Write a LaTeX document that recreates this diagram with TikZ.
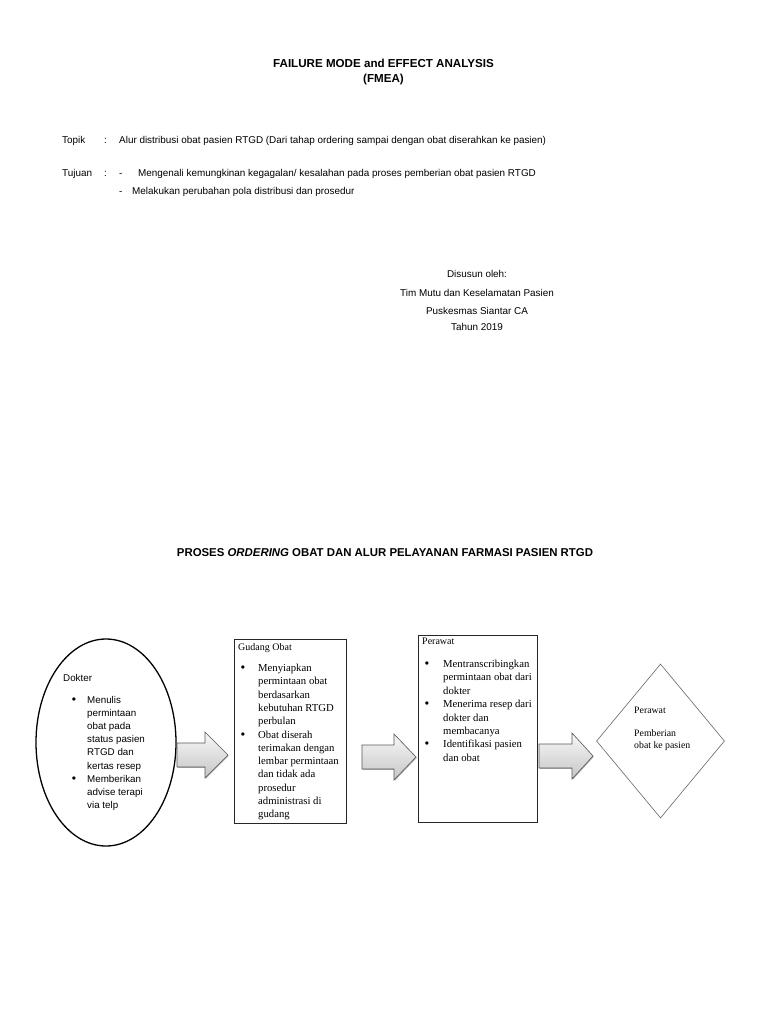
\documentclass[tikz,border=0pt]{standalone}
\usepackage{fontspec}
\setmainfont{Liberation Serif}
\setsansfont{Liberation Sans}
\usetikzlibrary{shapes.geometric,shadows}
\begin{document}
\begin{tikzpicture}[x=1pt,y=-1pt,
  every node/.style={inner sep=0pt},
  txt/.style={font=\sffamily\fontsize{9.9}{12}\selectfont, anchor=west, text height=7pt, text depth=2pt},
  ctr/.style={font=\sffamily\fontsize{9.9}{12}\selectfont, text height=7pt, text depth=2pt},
  ttl/.style={font=\sffamily\bfseries\fontsize{11.6}{14}\selectfont, text height=8.3pt, text depth=2.3pt},
  hdg/.style={font=\sffamily\bfseries\fontsize{11.4}{14}\selectfont, text height=8.2pt, text depth=2.2pt},
  eltxt/.style={font=\sffamily\fontsize{9.8}{12}\selectfont, anchor=west, text height=7pt, text depth=2pt},
  bxtxt/.style={font=\rmfamily\fontsize{10.7}{12}\selectfont, anchor=west, text height=7.3pt, text depth=2.3pt},
  bxttl/.style={font=\rmfamily\fontsize{10}{12}\selectfont, anchor=west, text height=7pt, text depth=2pt},
  dmtxt/.style={font=\rmfamily\fontsize{9.8}{12}\selectfont, anchor=west, text height=7pt, text depth=2pt},
  bul/.style={font=\sffamily\fontsize{12}{12}\selectfont, text height=7pt, text depth=2pt},
  frame/.style={draw=black!85, line width=0.8pt},
  blk/.style={draw=gray!70!black, line width=0.6pt, top color=gray!6, bottom color=gray!45,
              drop shadow={shadow xshift=0.8pt, shadow yshift=-0.8pt, opacity=0.3, fill=black}},
]
\useasboundingbox (0,0) rectangle (768,1024);
\fill[white] (0,0) rectangle (768,1024);

% ---------- header ----------
\node[ttl] (t1) at (383.5,65) {FAILURE MODE and EFFECT ANALYSIS};
\node[ttl] (t2) at (383.5,80) {(FMEA)};

\node[txt] (topik) at (62,141) {Topik};
\node[txt] (c1) at (104,141) {:};
\node[txt] (topiktxt) at (119,141) {Alur distribusi obat pasien RTGD (Dari tahap ordering sampai dengan obat diserahkan ke pasien)};

\node[txt] (tujuan) at (62,174) {Tujuan};
\node[txt] (c2) at (104,174) {:};
\node[txt] (d1) at (119,174) {-};
\node[txt] (tj1) at (138,174) {Mengenali kemungkinan kegagalan/ kesalahan pada proses pemberian obat pasien RTGD};
\node[txt] (d2) at (119,192) {-};
\node[txt] (tj2) at (132,192) {Melakukan perubahan pola distribusi dan prosedur};

\node[ctr] (s1) at (477,275) {Disusun oleh:};
\node[ctr] (s2) at (477,293.5) {Tim Mutu dan Keselamatan Pasien};
\node[ctr] (s3) at (477,312) {Puskesmas Siantar CA};
\node[ctr] (s4) at (477,328) {Tahun 2019};

\node[hdg] (hd) at (385,553) {PROSES \textit{ORDERING} OBAT DAN ALUR PELAYANAN FARMASI PASIEN RTGD};

% ---------- shapes ----------
\node[draw=black, line width=1.3pt, ellipse, minimum width=140pt, minimum height=207pt] (dok) at (106,742.5) {};
\node[frame, anchor=north west, minimum width=112pt, minimum height=184pt] (gud) at (234,639) {};
\node[frame, anchor=north west, minimum width=119pt, minimum height=187pt] (per) at (418,635) {};
\node[draw=gray!80!black, line width=0.6pt, diamond, minimum width=128pt, minimum height=154pt] (dia) at (660.5,741) {};

% ---------- block arrows ----------
\newcommand\blockarr[4]{%
  \path[blk] (#1,#4-12) -- (#2,#4-12) -- (#2,#4-23) -- (#3,#4) -- (#2,#4+23) -- (#2,#4+12) -- (#1,#4+12) -- cycle;}
\blockarr{177}{205}{228}{755}
\blockarr{362}{394}{416}{757}
\blockarr{539}{572}{593}{756}

% ---------- ellipse text ----------
\node[eltxt] (dkt) at (63,679) {Dokter};
\foreach \t [count=\i from 0] in {Menulis, permintaan, obat pada, status pasien, RTGD dan, kertas resep, Memberikan, advise terapi, via telp}
  \node[eltxt] (dk\i) at (87,701+13.1*\i) {\t};
\node[bul] (db1) at (74,701) {\textbullet};
\node[bul] (db2) at (74,779.6) {\textbullet};

% ---------- gudang text ----------
\node[bxttl] (gt) at (238,648) {Gudang Obat};
\foreach \t [count=\i from 0] in {Menyiapkan, permintaan obat, berdasarkan, kebutuhan RTGD, perbulan, Obat diserah, terimakan dengan, lembar permintaan, dan tidak ada, prosedur, administrasi di, gudang}
  \node[bxtxt] (gl\i) at (258,669+13.3*\i) {\t};
\node[bul] (gb1) at (243,669) {\textbullet};
\node[bul] (gb2) at (243,735.5) {\textbullet};

% ---------- perawat text ----------
\node[bxttl] (pt) at (422,642) {Perawat};
\foreach \t [count=\i from 0] in {Mentranscribingkan, permintaan obat dari, dokter, Menerima resep dari, dokter dan, membacanya, Identifikasi pasien, dan obat}
  \node[bxtxt] (pl\i) at (443,665+13.4*\i) {\t};
\node[bul] (pb1) at (427,665) {\textbullet};
\node[bul] (pb2) at (427,705.2) {\textbullet};
\node[bul] (pb3) at (427,745.4) {\textbullet};

% ---------- diamond text ----------
\node[dmtxt] (dt1) at (634,711) {Perawat};
\node[dmtxt] (dt2) at (634,734) {Pemberian};
\node[dmtxt] (dt3) at (634,746) {obat ke pasien};
\end{tikzpicture}
\end{document}
